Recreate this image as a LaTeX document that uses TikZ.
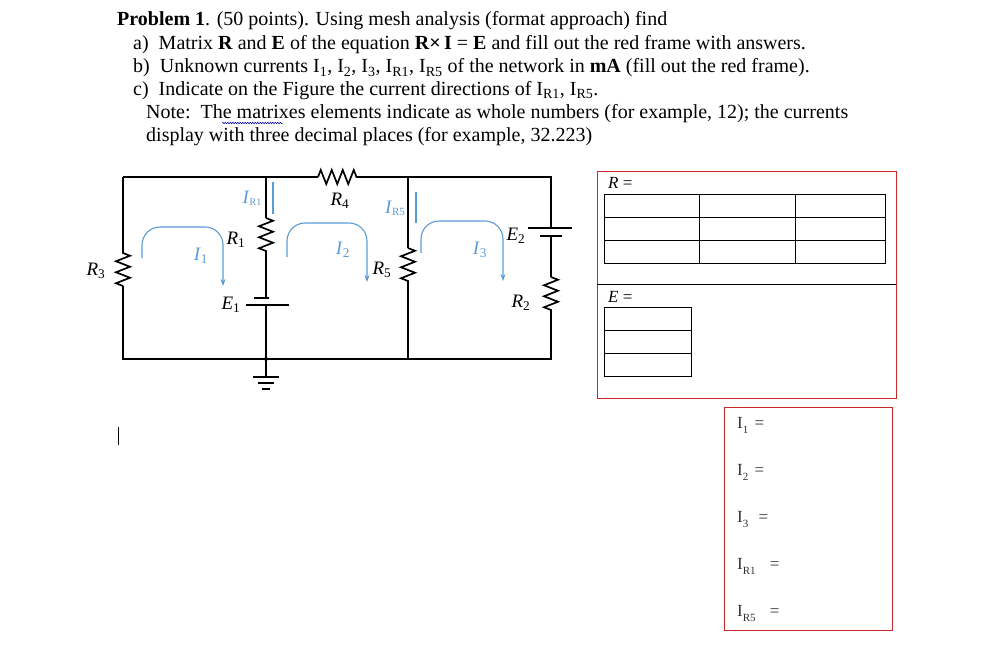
\documentclass[tikz,border=0pt]{standalone}
\usepackage{fontspec}
\setmainfont{Liberation Serif}
\usetikzlibrary{decorations.pathmorphing,arrows.meta}
\newcommand{\sbs}[1]{\textsubscript{#1}}
\newcommand{\lab}[2]{\textit{#1}\textsubscript{#2}}
\begin{document}
\begin{tikzpicture}[x=1pt,y=-1pt,
  wire/.style={line width=1.7pt,black},
  resist/.style={line width=1.7pt,decorate,decoration={zigzag,segment length=11pt,amplitude=7pt}},
  mesh/.style={draw={rgb,255:red,91;green,155;blue,213},line width=1.1pt,-{Stealth[length=7pt,width=5pt]}},
  blu/.style={text={rgb,255:red,91;green,155;blue,213}},
  lbl/.style={font=\fontsize{19}{19}\selectfont,inner sep=0},
  txt/.style={font=\fontsize{20}{23}\selectfont,anchor=west,inner sep=0},
  redbox/.style={draw={rgb,255:red,200;green,40;blue,40},line width=1pt},
  cell/.style={draw=black,line width=0.6pt}]
\useasboundingbox (0,0) rectangle (993,664);
% text
\node[txt] (t1) at (117,21) {\textbf{Problem 1}. (50 points). Using mesh analysis (format approach) find};
\node[txt] (t2) at (133,45) {a)\ \ Matrix \textbf{R} and \textbf{E} of the equation \textbf{R×\,I} = \textbf{E} and fill out the red frame with answers.};
\node[txt] (t3) at (133,68) {b)\ \ Unknown currents I\sbs{1}, I\sbs{2}, I\sbs{3}, I\sbs{R1}, I\sbs{R5} of the network in \textbf{mA} (fill out the red frame).};
\node[txt] (t4) at (133,91) {c)\ \ Indicate on the Figure the current directions of I\sbs{R1}, I\sbs{R5}.};
\node[txt] (t5) at (146,114) {Note:\ \ The matrixes elements indicate as whole numbers (for example, 12); the currents};
\node[txt] (t6) at (146,137) {display with three decimal places (for example, 32.223)};
\draw[blue!70!black,line width=0.5pt,decorate,decoration={snake,segment length=2.5pt,amplitude=0.8pt}] (222,123) -- (283,123);
% circuit coordinates
\coordinate (TL) at (123,177); \coordinate (BL) at (123,359);
\coordinate (TM) at (266,177); \coordinate (BM) at (266,359);
\coordinate (T5) at (408,177); \coordinate (B5) at (408,359);
\coordinate (TR) at (551,177); \coordinate (BR) at (551,359);
\draw[wire] (TL) -- (TM) -- (318,177);
\draw[resist] (318,177) -- (357,177);
\draw[wire] (357,177) -- (T5) -- (TR) -- (551,228);
\draw[wire] (551,236) -- (551,277);
\draw[resist] (551,277) -- (551,315);
\draw[wire] (551,315) -- (BR) -- (B5) -- (BM) -- (BL) -- (123,286);
\draw[resist] (123,286) -- (123,248);
\draw[wire] (123,248) -- (TL);
\draw[wire] (TM) -- (266,218);
\draw[resist] (266,218) -- (266,255);
\draw[wire] (266,255) -- (266,298);
\draw[wire] (266,305) -- (BM);
\draw[wire] (T5) -- (408,248);
\draw[resist] (408,248) -- (408,285);
\draw[wire] (408,285) -- (B5);
% batteries
\draw[line width=2.4pt] (254,298) -- (269,298);
\draw[line width=2.4pt] (246,305) -- (289,305);
\draw[line width=2.4pt] (528,228) -- (572,228);
\draw[line width=2.4pt] (540,236) -- (562,236);
% ground
\fill (BM) circle (2pt);
\draw[wire] (BM) -- (266,377);
\draw[line width=2.2pt] (253,377) -- (279,377);
\draw[line width=2.2pt] (258,383) -- (274,383);
\draw[line width=2.6pt] (262,389) -- (270,389);
% labels
\node[lbl] (lR1) at (236,240) {\lab{R}{1}};
\node[lbl] (lR3) at (96,271) {\lab{R}{3}};
\node[lbl] (lR4) at (340,201) {\lab{R}{4}};
\node[lbl] (lR5) at (382,270) {\lab{R}{5}};
\node[lbl] (lE1) at (231,305) {\lab{E}{1}};
\node[lbl] (lE2) at (516,236) {\lab{E}{2}};
\node[lbl] (lR2) at (521,303) {\lab{R}{2}};
% mesh arrows
\draw[mesh] (142,258) -- (142,245) to[out=90,in=180] (160,227) -- (205,227) to[out=0,in=90] (223,245) -- (223,286);
\draw[mesh] (287,257) -- (287,241) to[out=90,in=180] (305,223) -- (349,223) to[out=0,in=90] (367,241) -- (367,282);
\draw[mesh] (421,253) -- (421,239) to[out=90,in=180] (439,221) -- (485,221) to[out=0,in=90] (503,239) -- (503,281);
\node[lbl,blu] (i1) at (201,256) {\lab{I}{1}};
\node[lbl,blu] (i2) at (343,250) {\lab{I}{2}};
\node[lbl,blu] (i3) at (480,250) {\lab{I}{3}};
\node[lbl,blu] (ir1) at (252,198) {\textit{I}\raisebox{-2pt}{\fontsize{10}{10}\selectfont R1}};
\node[lbl,blu] (ir5) at (395,208) {\textit{I}\raisebox{-2pt}{\fontsize{11}{11}\selectfont R5}};
\draw[draw={rgb,255:red,91;green,155;blue,213},line width=1.4pt] (273,182) -- (273,214);
\draw[draw={rgb,255:red,91;green,155;blue,213},line width=1.4pt] (416,192) -- (416,223);
% R/E box
\draw[redbox] (597,171) rectangle (896,398);
\draw[line width=0.6pt] (597,284) -- (896,284);
\node[font=\fontsize{17}{17}\selectfont,anchor=west,inner sep=0] (Req) at (608,183) {\textit{R} =};
\foreach \y in {194,217,240}{\foreach \x/\w in {604/699,699/795,795/885}{\draw[cell] (\x,\y) rectangle (\w,\y+23);}}
\node[font=\fontsize{17}{17}\selectfont,anchor=west,inner sep=0] (Eeq) at (608,297) {\textit{E} =};
\foreach \y in {307,330,353}{\draw[cell] (604,\y) rectangle (691,\y+23);}
% current box
\draw[redbox] (724,407) rectangle (892,630);
\foreach \n/\s/\y/\g in {a/1/425/2,b/2/472/2,c/3/519/6,d/R1/566/10,e/R5/613/10}{
  \node[font=\fontsize{17}{17}\selectfont,anchor=west,inner sep=0,text=black!80] (c\n) at (737,\y) {I\raisebox{-5pt}{\fontsize{11}{11}\selectfont\s}\hspace{\g pt}\ =};}
\draw[line width=1pt] (118,427) -- (118,445);
\end{tikzpicture}
\end{document}
